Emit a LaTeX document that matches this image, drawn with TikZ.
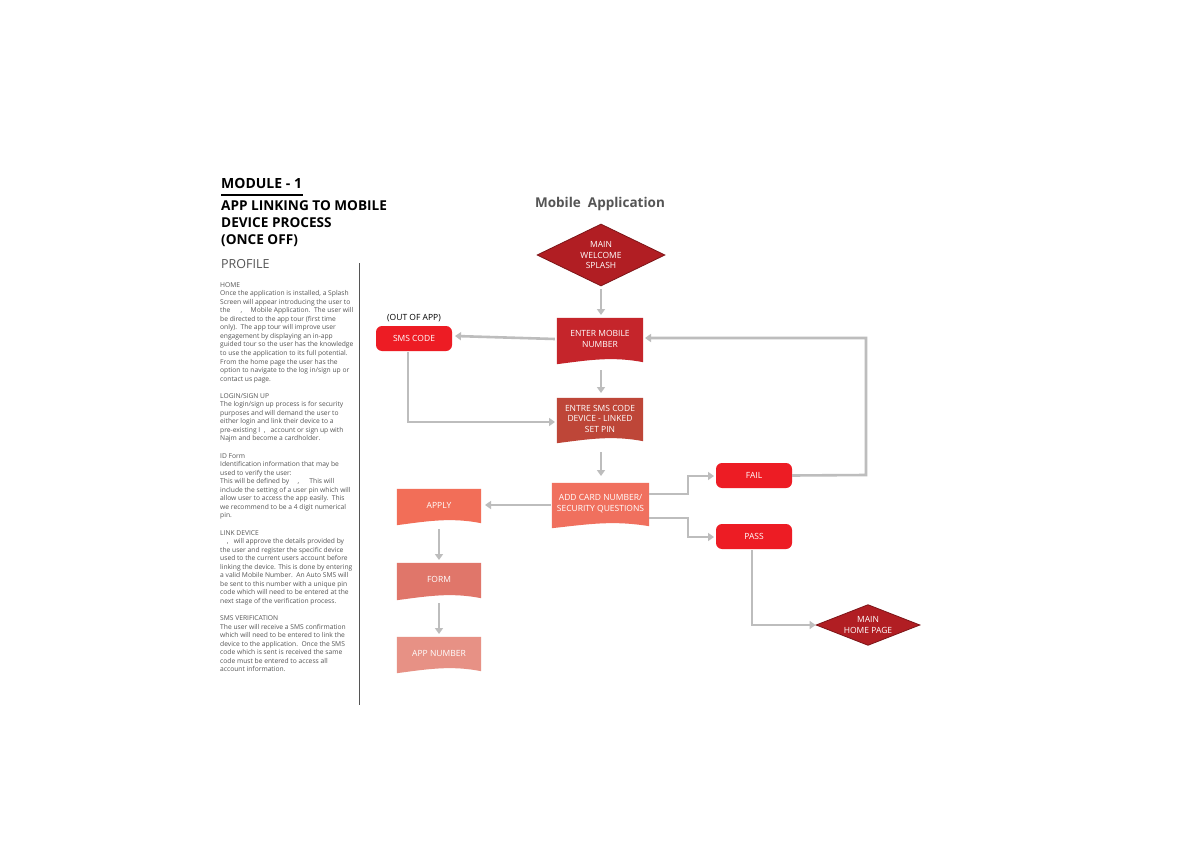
\documentclass[tikz,border=0pt]{standalone}
\usepackage{fontspec}
\setmainfont{Open Sans}
\usetikzlibrary{shapes.geometric,calc,arrows.meta}
\definecolor{arr}{HTML}{BDBDBD}
\definecolor{cSplash}{HTML}{B11E23}
\definecolor{cEnter}{HTML}{C5252B}
\definecolor{cEntre}{HTML}{BE4638}
\definecolor{cAdd}{HTML}{F0705E}
\definecolor{cApply}{HTML}{F26E58}
\definecolor{cForm}{HTML}{E0766A}
\definecolor{cApp}{HTML}{E79185}
\definecolor{cRed}{HTML}{ED1C24}
\definecolor{txtgray}{HTML}{555555}
\begin{document}
\begin{tikzpicture}[x=1pt,y=-1pt,
  lbl/.style={text=white,font=\fontsize{8.5}{10.5}\selectfont,align=center,inner sep=0pt},
  pill/.style={lbl,fill=cRed,rounded corners=6pt,minimum width=76pt,minimum height=25pt},
  conn/.style={draw=arr,line width=2.6pt,-{Triangle[width=8pt,length=6pt]}},
  dia/.style={diamond,aspect=2,draw=#1!70!black,fill=#1,lbl,line width=0.8pt,inner sep=0pt}
]
\fill[white] (0,0) rectangle (1200,848);
\newcommand\docbox[7]{%
  \node[lbl,minimum width=#3-#1,minimum height=#4-#2] (#6) at ({(#1+#3)/2},{(#2+#4)/2}) {};
  \fill[#5] (#6.north west) -- (#6.north east) -- ([yshift=2pt]#6.south east)
    .. controls ($(#6.south)+(12pt,8pt)$) and ($(#6.south)+(-12pt,4pt)$) .. (#6.south west) -- cycle;
  \node[lbl] at ([yshift=2pt]#6.center) {#7};}

% left panel
\node[anchor=west,font=\bfseries\fontsize{14}{16}\selectfont,inner sep=0pt] (mod) at (221,183) {MODULE - 1};
\draw[line width=2.5pt] (221,195) -- (303,195);
\node[anchor=north west,align=left,font=\bfseries\fontsize{13.6}{17}\selectfont,inner sep=0pt] (title) at (221,200) {APP LINKING TO MOBILE\\DEVICE PROCESS\\(ONCE OFF)};
\node[anchor=west,text=txtgray,font=\fontsize{12.5}{14}\selectfont,inner sep=0pt] (prof) at (221,264) {PROFILE};
\draw[txtgray,line width=0.8pt] (359,263) -- (359,705);
\node[anchor=north west,align=left,text=txtgray,font=\fontsize{6.7}{8.55}\selectfont,inner sep=0pt] (body) at (220,282) {%
HOME\\
Once the application is installed, a Splash\\
Screen will appear introducing the user to\\
the \quad\ , \quad Mobile Application.\ \ The user will\\
be directed to the app tour (first time\\
only).\ \ The app tour will improve user\\
engagement by displaying an in-app\\
guided tour so the user has the knowledge\\
to use the application to its full potential.\\
From the home page the user has the\\
option to navigate to the log in/sign up or\\
contact us page.\\[8.55pt]
LOGIN/SIGN UP\\
The login/sign up process is for security\\
purposes and will demand the user to\\
either login and link their device to a\\
pre-existing I \ , \ \ account or sign up with\\
Najm and become a cardholder.\\[8.55pt]
ID Form\\
Identification information that may be\\
used to verify the user:\\
This will be defined by \quad , \quad\ This will\\
include the setting of a user pin which will\\
allow user to access the app easily.\ \ This\\
we recommend to be a 4 digit numerical\\
pin.\\[8.55pt]
LINK DEVICE\\
\quad , \ \ will approve the details provided by\\
the user and register the specific device\\
used to the current users account before\\
linking the device. This is done by entering\\
a valid Mobile Number.\ \ An Auto SMS will\\
be sent to this number with a unique pin\\
code which will need to be entered at the\\
next stage of the verification process.\\[8.55pt]
SMS VERIFICATION\\
The user will receive a SMS confirmation\\
which will need to be entered to link the\\
device to the application.\ \ Once the SMS\\
code which is sent is received the same\\
code must be entered to access all\\
account information.};

% flowchart
\node[text=txtgray,font=\bfseries\fontsize{13.5}{15}\selectfont] (mtitle) at (600,204) {Mobile\ \ Application};
\node[dia=cSplash,minimum width=128pt,minimum height=62pt] (splash) at (601,255) {MAIN\\WELCOME\\SPLASH};
\docbox{557}{318}{643}{364}{cEnter}{enter}{ENTER MOBILE\\NUMBER}
\docbox{557}{398}{643}{443}{cEntre}{entre}{ENTRE SMS CODE\\DEVICE - LINKED\\SET PIN}
\docbox{552}{483}{649}{528}{cAdd}{add}{ADD CARD NUMBER/\\SECURITY QUESTIONS}
\docbox{397}{489}{481}{525}{cApply}{apply}{APPLY}
\docbox{397}{563}{481}{600}{cForm}{form}{FORM}
\docbox{397}{637}{481}{673}{cApp}{appn}{APP NUMBER}
\node[pill] (sms) at (414,338.5) {SMS CODE};
\node[font=\fontsize{8.5}{10}\selectfont] (out) at (414,318) {(OUT OF APP)};
\node[pill] (fail) at (754,475.5) {FAIL};
\node[pill] (pass) at (754,536.5) {PASS};
\node[dia=cSplash,minimum width=104pt,minimum height=38pt] (home) at (868,625) {MAIN\\HOME PAGE};

\draw[conn] (splash.south) ++(0,3) -- (601,315);
\draw[conn] (enter.west) ++(-2,-2) -- (455,336);
\draw[conn] (408,352) |- (555,422);
\draw[conn] (601,370) -- (601,393);
\draw[conn] (601,452) -- (601,476);
\draw[conn] (551,505) -- (485,505);
\draw[conn] (649,494) -- (688,494) |- (714,476);
\draw[conn] (649,518) -- (688,518) |- (714,537);
\draw[conn] (fail.east) -- (866,475) |- (645,338);
\draw[conn] (pass.south) ++(-2,1) |- (home.west);
\draw[conn] (439,529) -- (439,560);
\draw[conn] (439,603) -- (439,634);
\end{tikzpicture}
\end{document}
